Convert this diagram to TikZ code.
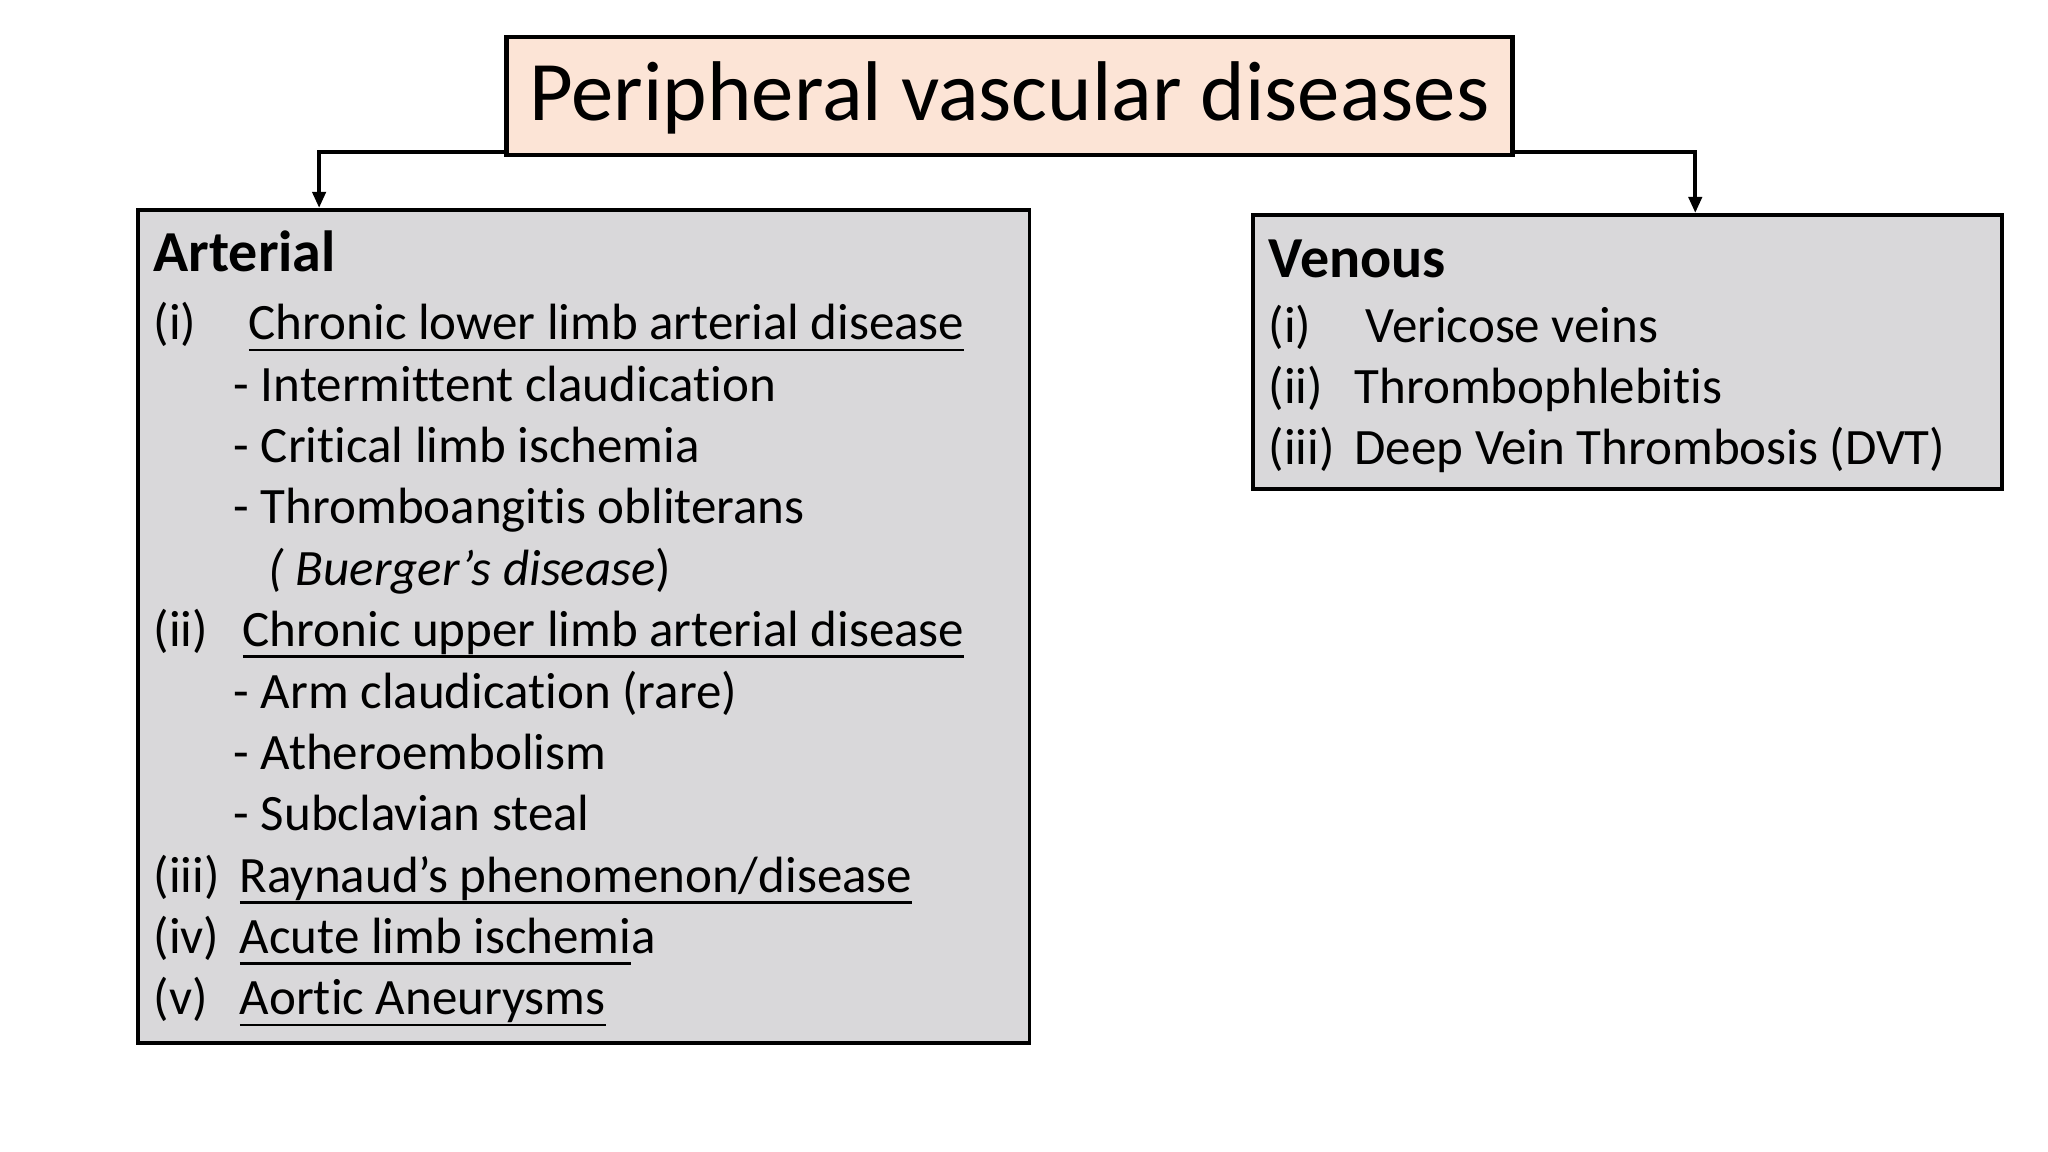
\documentclass[tikz,border=0pt]{standalone}
\usepackage{fontspec}
\setmainfont{Carlito}[Ligatures=NoCommon]
\usetikzlibrary{arrows.meta}
\definecolor{titlefill}{RGB}{252,228,214}
\definecolor{boxfill}{RGB}{217,216,218}
\newcommand{\numlbl}[2]{\makebox[#1][l]{#2}}
\newcommand{\uln}[1]{\setbox0\hbox{#1}\rlap{\rule[-3.3pt]{\wd0}{0.8pt}}\box0}
\begin{document}
\begin{tikzpicture}[x=0.01cm, y=-0.01cm,
    groupbox/.style={draw=black, line width=1.1pt, fill=boxfill, anchor=north west, inner sep=0pt},
    listtext/.style={anchor=north west, inner sep=0pt, align=left, font=\fontsize{14.5}{17.45}\selectfont},
    link/.style={black, line width=1.1pt, -{Triangle[length=0.16cm, width=0.13cm]}}]
  \useasboundingbox (0,0) rectangle (2048,1152);
  \node[draw=black, line width=1.3pt, fill=titlefill, minimum width=10.05cm, minimum height=1.18cm,
        inner sep=0pt, text depth=2.7pt, font=\fontsize{24.1}{28}\selectfont] (title) at (1009.5,96) {Peripheral vascular diseases};
  \node[groupbox, minimum width=8.91cm, minimum height=8.33cm] (arterial) at (136,208) {};
  \node[groupbox, minimum width=7.49cm, minimum height=2.74cm] (venous) at (1251,213) {};
  \draw[link] ([yshift=0.05cm]title.south west) -| ([xshift=1.83cm]arterial.north west);
  \draw[link] ([yshift=0.05cm]title.south east) -| ([xshift=4.44cm]venous.north west);
  \node[listtext] (artlist) at (153,230) {{\fontsize{16.5}{20}\bfseries Arterial}\\[2pt]
    \numlbl{0.95cm}{(i)}\uln{Chronic lower limb arterial disease}\\
    \hspace*{0.8cm}- Intermittent claudication\\
    \hspace*{0.8cm}- Critical limb ischemia\\
    \hspace*{0.8cm}- Thromboangitis obliterans\\
    \hspace*{1.15cm}\textit{( Buerger’s disease})\\
    \numlbl{0.89cm}{(ii)}\uln{Chronic upper limb arterial disease}\\
    \hspace*{0.8cm}- Arm claudication (rare)\\
    \hspace*{0.8cm}- Atheroembolism\\
    \hspace*{0.8cm}- Subclavian steal\\
    \numlbl{0.86cm}{(iii)}\uln{Raynaud’s phenomenon/disease}\\
    \numlbl{0.86cm}{(iv)}\uln{Acute limb ischemi}a\\
    \numlbl{0.86cm}{(v)}\uln{Aortic Aneurysms}};
  \node[listtext] (venlist) at (1268,239) {{\fontsize{16.5}{20}\bfseries Venous}\\[1pt]
    \numlbl{0.97cm}{(i)}Vericose veins\\
    \numlbl{0.86cm}{(ii)}Thrombophlebitis\\
    \numlbl{0.86cm}{(iii)}Deep Vein Thrombosis (DVT)};
\end{tikzpicture}
\end{document}
